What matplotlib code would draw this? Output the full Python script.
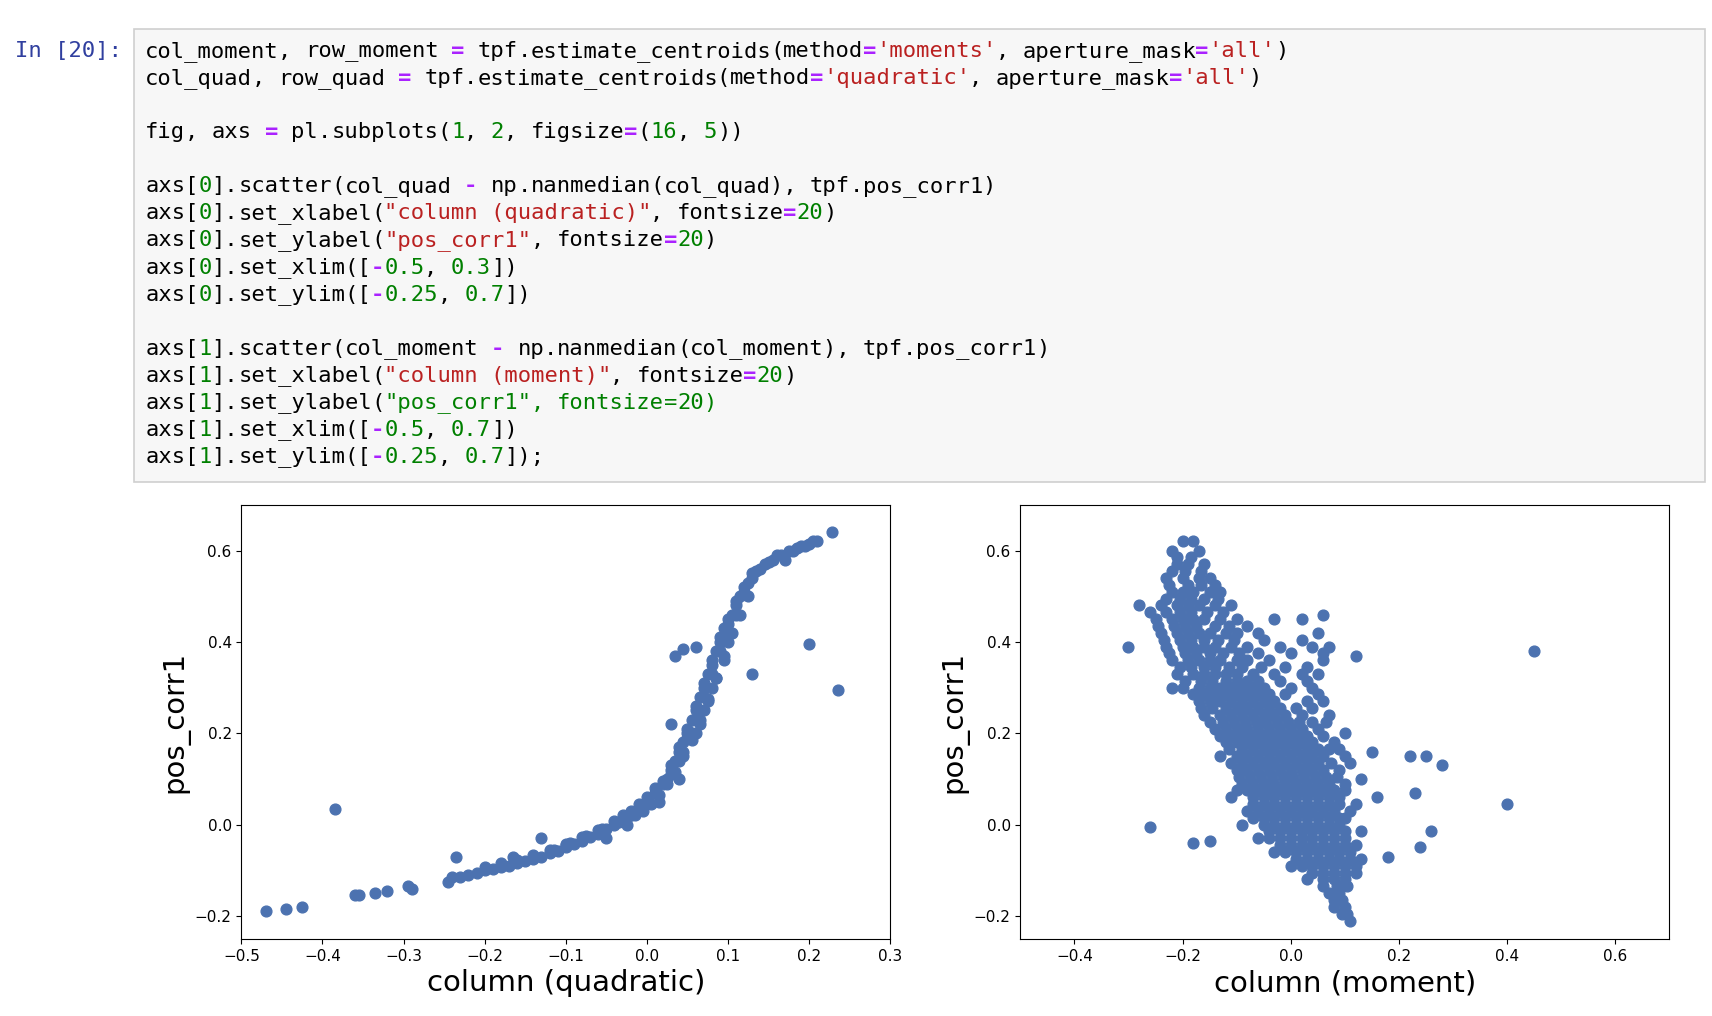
import re
import matplotlib
matplotlib.use('Agg')
import matplotlib.pyplot as plt
from matplotlib.patches import Rectangle

# ---- data ----
quad_x = [-0.47, -0.445, -0.425, -0.385, -0.36, -0.355, -0.335, -0.32, -0.295, -0.29, -0.245, -0.235, -0.24,
          0.13, 0.2, 0.235, 0.045, 0.06, 0.035, 0.228, -0.165, -0.13, -0.1, -0.05, -0.02, 0.03,
          -0.23, -0.22, -0.21, -0.2, -0.19, -0.18, -0.17, -0.16, -0.15, -0.14, -0.13, -0.12, -0.11, -0.10,
          -0.09, -0.08, -0.07, -0.06, -0.05, -0.04, -0.03, -0.02, -0.01, 0.0, 0.01, 0.02, 0.03, 0.04, 0.05,
          0.06, 0.07, 0.08, 0.09, 0.10, 0.11, 0.12, 0.13, 0.14, 0.15, 0.16, 0.18, 0.2, 0.21,
          -0.115, -0.095, -0.075, -0.055, -0.035, -0.015, 0.005, 0.015, 0.025, 0.035, 0.045, 0.055, 0.065,
          0.075, 0.085, 0.095, 0.105, 0.115, 0.125, 0.17, 0.19, -0.025, -0.005, 0.015, 0.04, 0.06, 0.08,
          0.02, 0.025, 0.03, 0.035, 0.04, 0.045, 0.05, 0.055, 0.06, 0.065, 0.07, 0.075, 0.08, 0.085, 0.09,
          0.095, 0.1, 0.105, 0.11, 0.115, 0.12, 0.125, 0.13, 0.135, 0.145, 0.155, 0.165, 0.175, 0.185, 0.195,
          0.205, 0.05, 0.06, 0.07, 0.08, 0.09, 0.1, 0.04, 0.03, 0.065, 0.075, 0.085, 0.095, 0.045, 0.055,
          0.07, 0.1, 0.11,
          -0.2, -0.18, -0.16, -0.14, -0.12, -0.1, -0.08, -0.06, -0.04, -0.02, 0.0, 0.01, -0.03, -0.01]
quad_y = [-0.19, -0.185, -0.18, 0.035, -0.155, -0.155, -0.15, -0.145, -0.135, -0.14, -0.125, -0.07, -0.115,
          0.33, 0.395, 0.295, 0.385, 0.39, 0.37, 0.64, -0.07, -0.03, -0.045, -0.03, 0.02, 0.22,
          -0.115, -0.11, -0.105, -0.1, -0.097, -0.093, -0.09, -0.085, -0.08, -0.075, -0.07, -0.063, -0.057, -0.05,
          -0.043, -0.035, -0.027, -0.02, -0.01, 0.0, 0.01, 0.02, 0.035, 0.05, 0.07, 0.095, 0.12, 0.16, 0.2,
          0.25, 0.3, 0.35, 0.4, 0.44, 0.48, 0.51, 0.54, 0.56, 0.575, 0.59, 0.6, 0.615, 0.62,
          -0.055, -0.04, -0.025, -0.01, 0.005, 0.02, 0.045, 0.065, 0.09, 0.115, 0.15, 0.185, 0.23,
          0.275, 0.32, 0.37, 0.42, 0.46, 0.5, 0.58, 0.61, 0.0, 0.03, 0.05, 0.1, 0.2, 0.3,
          0.09, 0.1, 0.13, 0.14, 0.17, 0.18, 0.21, 0.23, 0.26, 0.28, 0.31, 0.33, 0.36, 0.38, 0.41,
          0.43, 0.45, 0.46, 0.49, 0.5, 0.52, 0.53, 0.55, 0.555, 0.57, 0.58, 0.59, 0.6, 0.605, 0.61,
          0.62, 0.19, 0.23, 0.28, 0.33, 0.38, 0.42, 0.14, 0.11, 0.22, 0.27, 0.32, 0.36, 0.16, 0.2,
          0.25, 0.4, 0.46,
          -0.092, -0.085, -0.077, -0.067, -0.055, -0.042, -0.027, -0.012, 0.008, 0.03, 0.06, 0.08, 0.02, 0.045]

mom_levels = [0.62, 0.60, 0.57, 0.54, 0.51, 0.48, 0.45, 0.42, 0.39, 0.36, 0.33, 0.30, 0.27, 0.24, 0.21,
              0.18, 0.15, 0.12, 0.09, 0.06, 0.03, 0.00, -0.03, -0.06, -0.09, -0.12, -0.15, -0.18, -0.21,
              0.585, 0.555, 0.525, 0.495, 0.465, 0.435, 0.405, 0.375, 0.345, 0.315, 0.285, 0.255, 0.225,
              0.195, 0.165, 0.135, 0.105, 0.075, 0.045, 0.015, -0.015, -0.045, -0.075, -0.105, -0.135,
              -0.165, -0.195]
mom_rows = [
    [-0.2, -0.18],
    [-0.22, -0.17],
    [-0.21, -0.19, -0.16],
    [-0.23, -0.2, -0.17, -0.15],
    [-0.22, -0.2, -0.18, -0.15, -0.13],
    [-0.28, -0.24, -0.21, -0.19, -0.17, -0.14, -0.11],
    [-0.25, -0.22, -0.2, -0.18, -0.16, -0.13, -0.1, -0.03],
    [-0.24, -0.21, -0.19, -0.17, -0.15, -0.12, -0.1, -0.06, 0.05],
    [-0.23, -0.2, -0.18, -0.16, -0.14, -0.11, -0.08, -0.02, 0.04, 0.07],
    [-0.22, -0.19, -0.17, -0.15, -0.13, -0.1, -0.08, -0.04, 0.06],
    [-0.21, -0.18, -0.16, -0.14, -0.12, -0.1, -0.07, -0.03, 0.02, 0.05],
    [-0.2, -0.17, -0.15, -0.13, -0.11, -0.09, -0.07, -0.05, 0.0, 0.04],
    [-0.17, -0.15, -0.13, -0.11, -0.09, -0.07, -0.05, -0.03, 0.03, 0.06],
    [-0.16, -0.13, -0.11, -0.09, -0.07, -0.05, -0.03, -0.01, 0.02, 0.07],
    [-0.14, -0.12, -0.1, -0.08, -0.06, -0.04, -0.02, 0.0, 0.02, 0.05],
    [-0.12, -0.1, -0.08, -0.06, -0.04, -0.02, 0.0, 0.02, 0.04, 0.08],
    [-0.13, -0.1, -0.08, -0.06, -0.04, -0.02, 0.0, 0.02, 0.04, 0.06, 0.1],
    [-0.1, -0.08, -0.06, -0.04, -0.02, 0.0, 0.02, 0.04, 0.06, 0.09],
    [-0.09, -0.07, -0.05, -0.03, -0.01, 0.01, 0.03, 0.05, 0.07, 0.1],
    [-0.11, -0.07, -0.05, -0.03, -0.01, 0.01, 0.03, 0.05, 0.07, 0.09],
    [-0.08, -0.06, -0.04, -0.02, 0.0, 0.02, 0.04, 0.06, 0.08, 0.11],
    [-0.09, -0.05, -0.03, -0.01, 0.01, 0.03, 0.05, 0.07, 0.09],
    [-0.06, -0.04, -0.02, 0.0, 0.02, 0.04, 0.06, 0.08, 0.1],
    [-0.03, -0.01, 0.01, 0.03, 0.05, 0.07, 0.09, 0.11],
    [0.0, 0.02, 0.04, 0.06, 0.08, 0.1, 0.12],
    [0.03, 0.06, 0.08, 0.1],
    [0.07, 0.09],
    [0.08, 0.1],
    [0.11],
    [-0.21, -0.185],
    [-0.22, -0.195, -0.165],
    [-0.225, -0.19, -0.165, -0.14],
    [-0.23, -0.205, -0.185, -0.16, -0.135],
    [-0.26, -0.23, -0.205, -0.185, -0.155, -0.125],
    [-0.245, -0.215, -0.195, -0.175, -0.14, -0.115, -0.08],
    [-0.235, -0.205, -0.185, -0.16, -0.135, -0.105, -0.05, 0.02],
    [-0.225, -0.195, -0.175, -0.15, -0.125, -0.095, -0.06, 0.0, 0.06],
    [-0.205, -0.185, -0.16, -0.14, -0.115, -0.09, -0.055, -0.01, 0.03],
    [-0.195, -0.165, -0.145, -0.12, -0.1, -0.08, -0.06, -0.02, 0.03],
    [-0.18, -0.16, -0.14, -0.12, -0.1, -0.08, -0.06, -0.04, -0.01, 0.05],
    [-0.165, -0.145, -0.12, -0.1, -0.08, -0.06, -0.04, -0.02, 0.01, 0.04],
    [-0.15, -0.125, -0.105, -0.085, -0.065, -0.045, -0.025, -0.005, 0.015, 0.04, 0.065],
    [-0.13, -0.11, -0.09, -0.07, -0.05, -0.03, -0.01, 0.01, 0.03, 0.06],
    [-0.115, -0.09, -0.07, -0.05, -0.03, -0.01, 0.01, 0.03, 0.05, 0.07, 0.09],
    [-0.11, -0.09, -0.07, -0.05, -0.03, -0.01, 0.01, 0.03, 0.05, 0.075, 0.11],
    [-0.095, -0.075, -0.055, -0.035, -0.015, 0.005, 0.025, 0.045, 0.065, 0.085],
    [-0.1, -0.08, -0.06, -0.04, -0.02, 0.0, 0.02, 0.04, 0.06, 0.08, 0.1],
    [-0.07, -0.05, -0.03, -0.01, 0.01, 0.03, 0.05, 0.07, 0.09, 0.12],
    [-0.07, -0.05, -0.03, -0.01, 0.01, 0.03, 0.05, 0.07, 0.09, 0.1],
    [-0.04, -0.02, 0.0, 0.02, 0.04, 0.06, 0.08, 0.1, 0.13],
    [-0.02, 0.0, 0.02, 0.04, 0.06, 0.08, 0.1, 0.12],
    [0.01, 0.03, 0.05, 0.07, 0.09, 0.11, 0.13],
    [0.04, 0.06, 0.08, 0.1, 0.12],
    [0.06, 0.085, 0.105],
    [0.08, 0.095],
    [0.095, 0.105],
]
mom_out_x = [-0.3, -0.26, -0.18, -0.15, 0.45, 0.4, 0.22, 0.25, 0.28, 0.23, 0.24, 0.26, 0.18, 0.15,
             0.13, 0.12, 0.06, 0.02, -0.22, 0.16, 0.1]
mom_out_y = [0.39, -0.005, -0.04, -0.035, 0.38, 0.045, 0.15, 0.15, 0.13, 0.07, -0.05, -0.015, -0.07, 0.16,
             0.1, 0.37, 0.46, 0.45, 0.3, 0.06, 0.2]

mom_x = [x for row in mom_rows for x in row] + mom_out_x
mom_y = [y for y, row in zip(mom_levels, mom_rows) for _ in row] + mom_out_y

code_lines = [
    "col_moment, row_moment = tpf.estimate_centroids(method='moments', aperture_mask='all')",
    "col_quad, row_quad = tpf.estimate_centroids(method='quadratic', aperture_mask='all')",
    "",
    "fig, axs = pl.subplots(1, 2, figsize=(16, 5))",
    "",
    "axs[0].scatter(col_quad - np.nanmedian(col_quad), tpf.pos_corr1)",
    'axs[0].set_xlabel("column (quadratic)", fontsize=20)',
    'axs[0].set_ylabel("pos_corr1", fontsize=20)',
    "axs[0].set_xlim([-0.5, 0.3])",
    "axs[0].set_ylim([-0.25, 0.7])",
    "",
    "axs[1].scatter(col_moment - np.nanmedian(col_moment), tpf.pos_corr1)",
    'axs[1].set_xlabel("column (moment)", fontsize=20)',
    'axs[1].set_ylabel("pos_corr1", fontsize=20)',
    "axs[1].set_xlim([-0.5, 0.7])",
    "axs[1].set_ylim([-0.25, 0.7]);",
]

# ---- figure ----
W, H = 1712, 1016
fig = plt.figure(figsize=(W / 100, H / 100), dpi=100)

fig.patches.append(Rectangle((0.078, 1 - 0.474), 0.918, 0.445, transform=fig.transFigure,
                             facecolor='#f7f7f7', edgecolor='#cfcfcf', lw=1.2))
fig.text(0.009, 1 - 0.0505, 'In [20]:', family='DejaVu Sans Mono', fontsize=15.9,
         color='#303F9F', va='center')

fs = 15.9
cw = 0.602 * fs * 100 / 72 / W
x0, y0, dy = 0.0848, 1 - 0.0505, 0.0266
tok = re.compile(r"('[^']*'|\"[^\"]*\"|[A-Za-z_][A-Za-z_0-9]*|\d+(?:\.\d+)?|[=\-]|[^'\"=\-\w]+|.)")
for i, line in enumerate(code_lines):
    col = 0
    green_rest = False
    for m in tok.finditer(line):
        t = m.group(0)
        c, w = 'black', 'normal'
        if i == 13 and t.startswith('"'):
            green_rest = True
        if green_rest:
            c = '#008000'
        elif t[0] in '\'"':
            c = '#BA2121'
        elif re.fullmatch(r"\d+(?:\.\d+)?", t):
            c = '#008000'
        elif t in '=-':
            c, w = '#AA22FF', 'bold'
        fig.text(x0 + col * cw, y0 - i * dy, t, family='DejaVu Sans Mono', fontsize=fs,
                 color=c, weight=w, va='center')
        col += len(t)

blue = '#4C72B0'
ax1 = fig.add_axes([0.141, 0.076, 0.379, 0.427])
ax2 = fig.add_axes([0.596, 0.076, 0.379, 0.427])

ax1.scatter(quad_x, quad_y, s=60, color=blue)
ax1.set_xlabel("column (quadratic)", fontsize=21)
ax1.set_ylabel("pos_corr1", fontsize=21)
ax1.set_xlim([-0.5, 0.3])
ax1.set_ylim([-0.25, 0.7])

ax2.scatter(mom_x, mom_y, s=60, color=blue)
ax2.set_xlabel("column (moment)", fontsize=21)
ax2.set_ylabel("pos_corr1", fontsize=21)
ax2.set_xlim([-0.5, 0.7])
ax2.set_ylim([-0.25, 0.7])
ax2.set_xticks([-0.4, -0.2, 0.0, 0.2, 0.4, 0.6])

for ax in (ax1, ax2):
    ax.set_yticks([-0.2, 0.0, 0.2, 0.4, 0.6])
    ax.tick_params(labelsize=11)

fig.savefig('out.png', dpi=100, facecolor='white')
